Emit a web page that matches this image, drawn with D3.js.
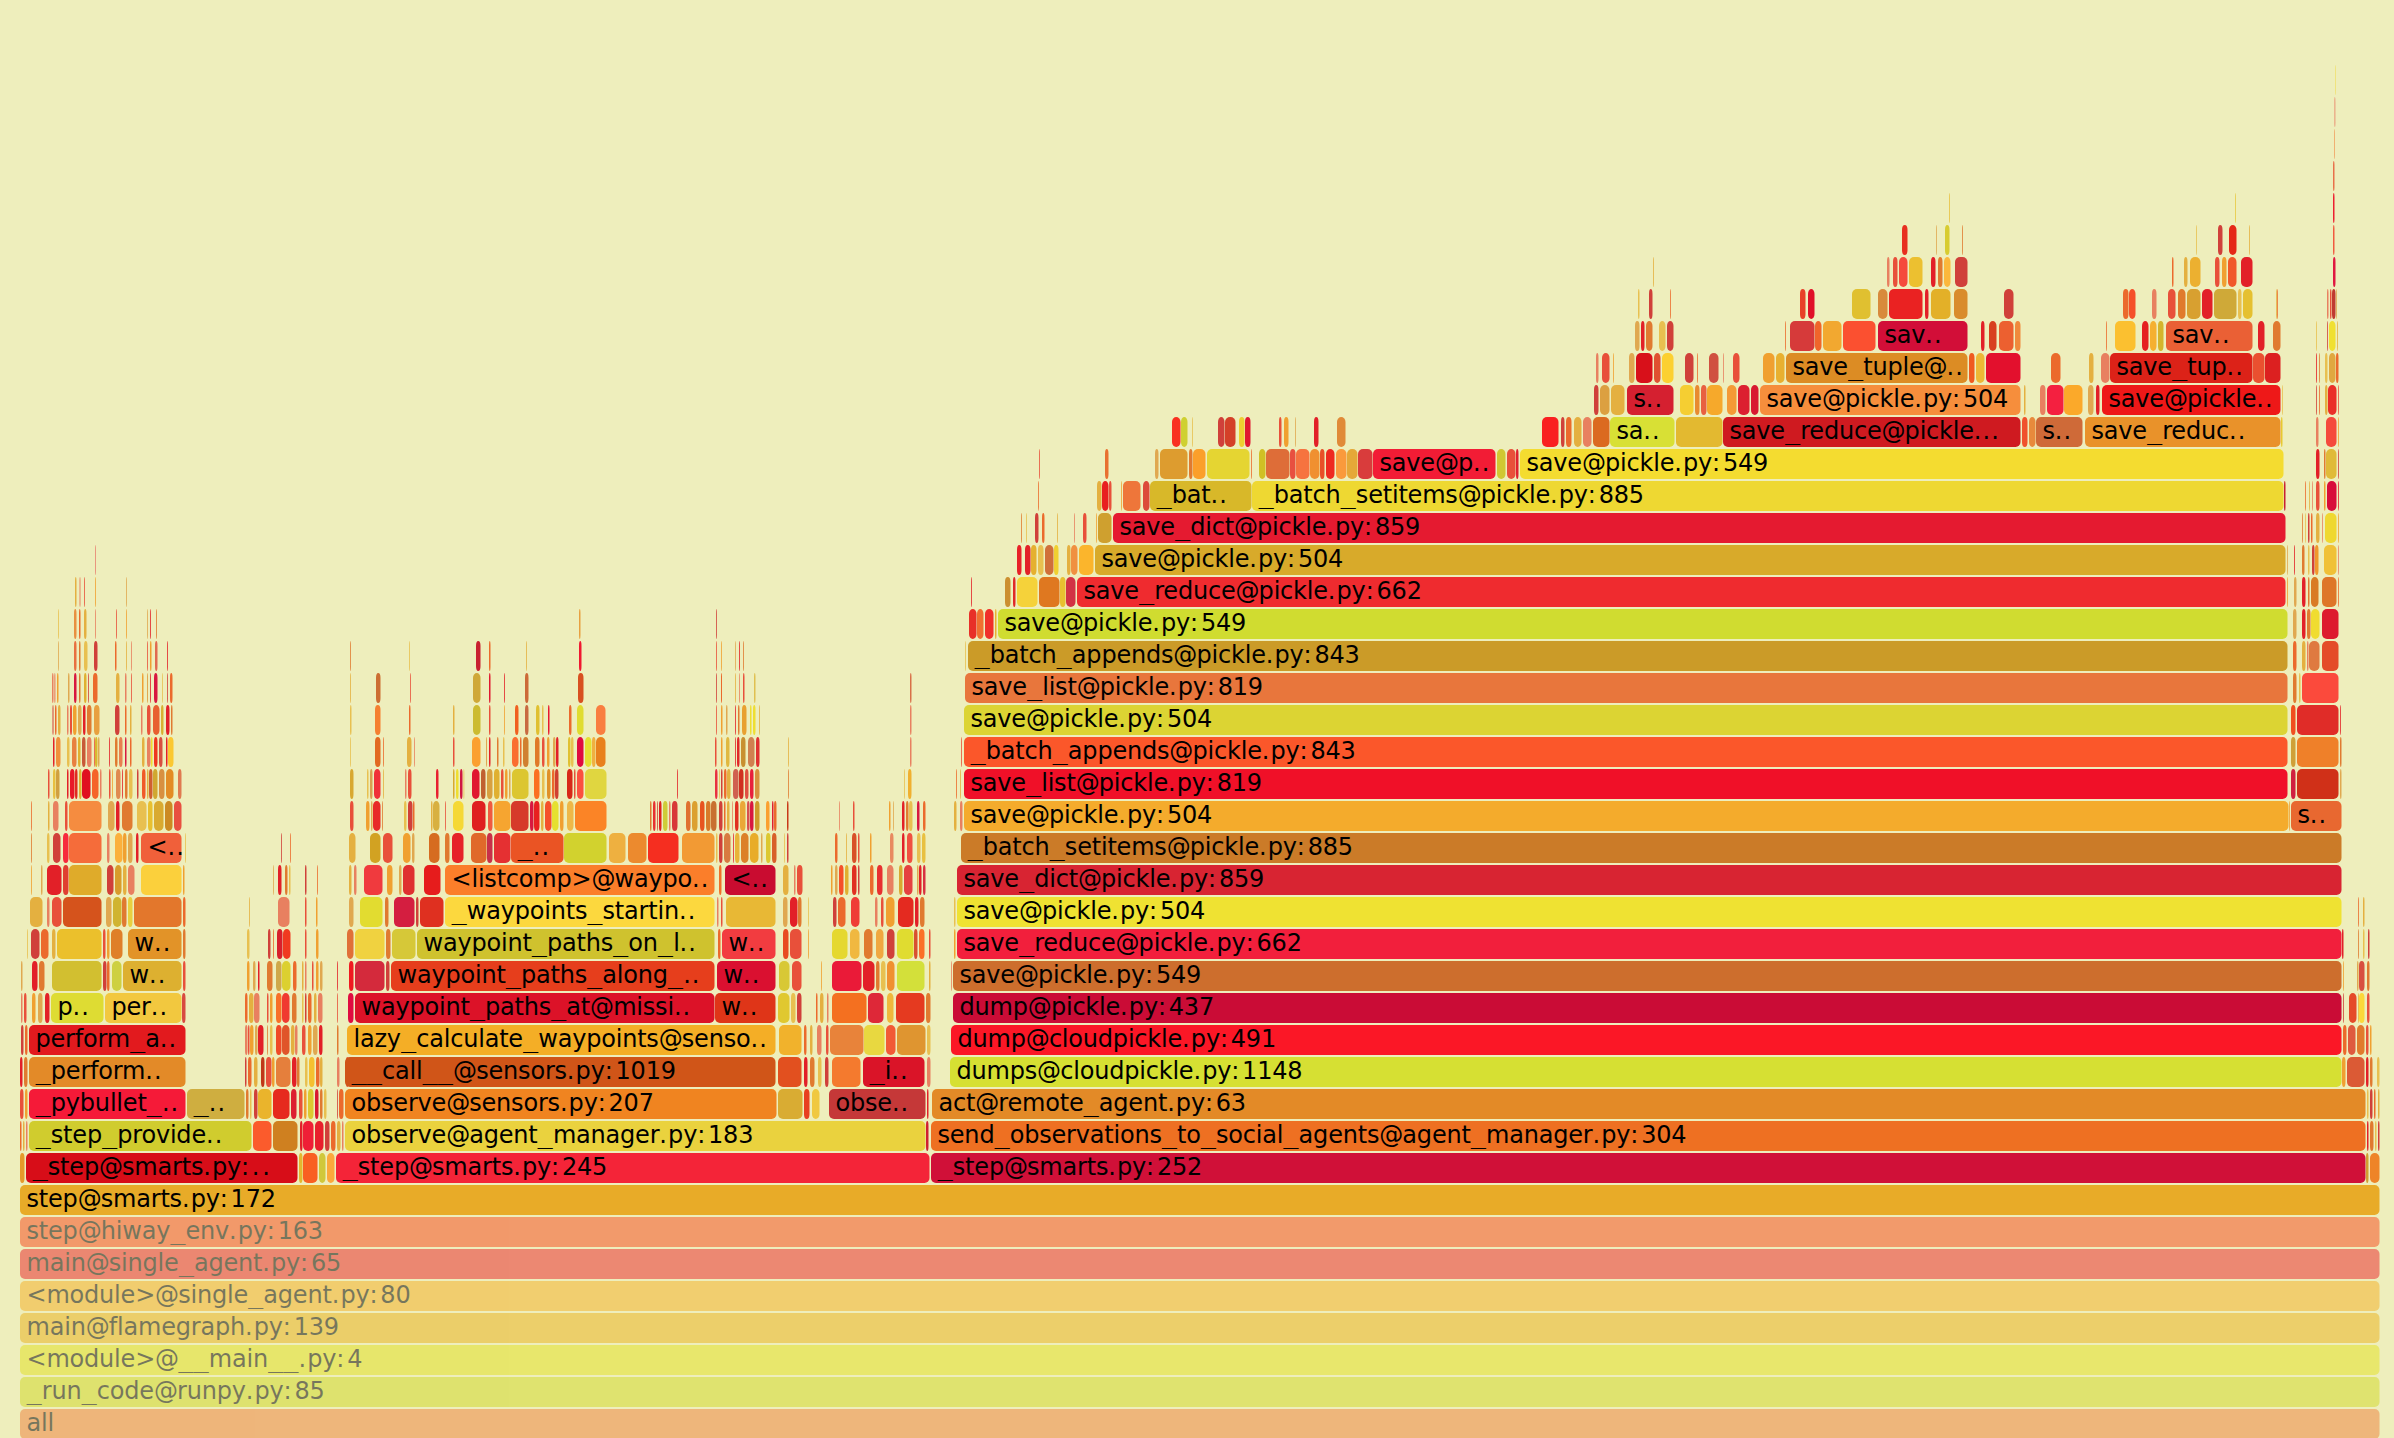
<!DOCTYPE html>
<html><head><meta charset="utf-8">
<script src="https://cdnjs.cloudflare.com/ajax/libs/d3/7.8.5/d3.min.js"></script>
<style>html,body{margin:0;padding:0;background:#eeeebc;overflow:hidden}</style></head>
<body><svg id="flame"></svg>
<script>
// Sample spans per stack depth: [firstSample, lastSample]
const depth0=[[20,2380]],depth1=[[20,2380]],depth2=[[20,2380]],depth3=[[20,2380]],depth4=[[20,2380]],depth5=[[20,2380]],depth6=[[20,2380]],depth7=[[20,2380]];
const depth8=[[20,25],[26,298],[299,303],[303,318],[319,326],[327,335],[336,930],[931,2366],[2366,2369],[2370,2380]];
const depth9=[[20,22],[23,25],[26,28],[29,252],[253,272],[273,298],[300,303],[303,314],[315,324],[325,330],[331,336],[337,341],[342,344],[345,926],[926,929],[931,2366],[2367,2369],[2370,2374],[2375,2377],[2378,2380]];
const depth10=[[20,24],[25,28],[29,186],[187,245],[246,249],[250,252],[254,258],[258,272],[273,290],[291,297],[299,303],[304,307],[308,314],[315,319],[320,323],[324,327],[337,338],[339,344],[345,777],[778,803],[804,810],[812,820],[829,926],[927,929],[932,2366],[2367,2369],[2370,2373],[2374,2376],[2378,2380]];
const depth11=[[20,23],[24,28],[29,186],[245,247],[248,252],[254,258],[261,265],[266,272],[272,275],[276,291],[292,297],[297,300],[305,308],[309,315],[316,320],[320,323],[337,340],[346,349],[345,776],[778,802],[804,808],[810,815],[818,822],[825,829],[832,861],[863,925],[927,931],[950,2342],[2342,2346],[2347,2365],[2366,2369],[2370,2373],[2377,2380]];
const depth12=[[21,24],[25,28],[29,186],[245,248],[248,250],[250,254],[255,258],[258,264],[267,268],[270,273],[276,282],[282,290],[291,295],[295,298],[302,306],[308,312],[313,318],[319,323],[337,339],[347,776],[779,802],[804,807],[810,813],[817,822],[826,829],[830,864],[864,885],[886,896],[897,926],[927,931],[951,2342],[2343,2347],[2348,2356],[2357,2365],[2366,2369],[2370,2372]];
const depth13=[[21,23],[24,27],[32,36],[38,43],[45,50],[51,104],[105,182],[182,186],[245,248],[249,254],[254,260],[267,269],[270,273],[276,282],[282,290],[292,297],[302,304],[305,307],[308,312],[314,317],[318,323],[337,338],[348,354],[355,715],[715,776],[778,790],[791,796],[797,802],[816,818],[820,824],[827,829],[832,867],[868,884],[887,894],[896,925],[926,931],[953,2342],[2343,2344],[2349,2357],[2358,2359],[2359,2365],[2367,2370]];
const depth14=[[21,23],[32,38],[39,45],[52,102],[103,107],[107,110],[112,122],[123,182],[183,186],[247,250],[253,256],[258,260],[267,273],[276,282],[282,291],[293,297],[302,304],[305,307],[312,314],[316,319],[320,323],[337,338],[349,354],[355,385],[386,390],[391,715],[717,776],[779,790],[792,802],[821,822],[832,862],[863,875],[876,880],[881,886],[887,895],[897,925],[929,931],[951,952],[953,2342],[2343,2344],[2357,2359],[2359,2365],[2367,2370]];
const depth15=[[27,28],[31,40],[41,49],[52,56],[57,102],[103,106],[107,110],[111,123],[128,182],[183,186],[247,250],[268,271],[273,274],[277,283],[283,291],[305,307],[316,319],[347,354],[355,385],[386,391],[392,416],[417,715],[718,721],[722,776],[783,789],[790,802],[808,809],[832,848],[850,860],[864,873],[876,884],[887,895],[897,914],[914,918],[919,925],[929,931],[954,956],[957,2342],[2342,2344],[2358,2359],[2363,2365],[2368,2370]];
const depth16=[[30,43],[47,50],[52,62],[63,102],[106,112],[113,122],[122,127],[128,133],[134,182],[183,186],[249,250],[278,290],[305,307],[316,318],[349,354],[360,383],[385,389],[394,415],[416,419],[420,444],[445,715],[717,719],[721,723],[726,776],[783,788],[790,798],[798,802],[808,809],[833,837],[838,846],[851,860],[875,878],[881,884],[886,895],[898,914],[915,919],[920,925],[954,956],[957,2342],[2358,2359],[2363,2365]];
const depth17=[[31,32],[41,43],[47,62],[63,69],[69,102],[107,114],[115,122],[123,127],[128,135],[141,182],[183,185],[273,274],[278,282],[285,288],[289,291],[305,307],[317,318],[349,352],[354,357],[364,383],[387,393],[399,402],[403,415],[424,441],[445,715],[719,722],[725,776],[783,789],[794,796],[797,803],[831,833],[835,838],[839,844],[845,849],[852,857],[858,860],[870,874],[877,883],[887,894],[899,903],[904,913],[917,919],[919,922],[923,926],[957,2342]];
const depth18=[[31,32],[47,50],[53,61],[63,69],[69,102],[107,110],[115,123],[123,127],[128,133],[136,139],[141,182],[185,186],[281,282],[290,291],[349,356],[370,381],[383,393],[403,411],[412,415],[429,440],[445,450],[452,464],[471,487],[487,493],[494,511],[511,564],[564,607],[609,626],[628,647],[648,679],[682,715],[716,718],[719,723],[724,731],[733,734],[735,740],[741,749],[750,759],[761,763],[766,771],[772,777],[784,785],[787,789],[835,838],[846,847],[852,857],[858,860],[870,872],[890,894],[902,905],[907,913],[917,921],[922,926],[961,2342]];
const depth19=[[31,32],[48,50],[53,59],[65,68],[69,102],[108,115],[116,120],[122,133],[137,147],[148,153],[154,164],[165,173],[174,182],[350,354],[366,370],[371,373],[373,381],[382,383],[404,407],[408,413],[413,415],[431,433],[433,440],[445,446],[453,464],[472,486],[488,493],[494,511],[511,529],[530,534],[534,540],[541,544],[545,552],[552,559],[560,564],[567,574],[575,607],[650,652],[653,656],[657,658],[659,662],[663,668],[669,671],[672,678],[686,691],[692,698],[700,705],[706,711],[711,717],[719,723],[724,726],[727,730],[732,733],[735,739],[740,746],[747,750],[750,754],[755,760],[766,770],[772,774],[774,777],[787,789],[839,840],[853,855],[889,891],[893,894],[902,905],[906,909],[909,913],[917,920],[923,926],[954,957],[960,963],[964,2289],[2289,2290],[2291,2342]];
const depth20=[[48,50],[53,56],[56,60],[67,69],[70,75],[75,78],[79,82],[82,91],[92,99],[100,102],[109,111],[112,113],[116,121],[122,123],[125,128],[129,133],[137,139],[142,146],[147,149],[149,153],[153,158],[159,165],[166,174],[178,182],[350,354],[367,369],[370,373],[374,381],[383,384],[405,407],[408,412],[436,439],[453,455],[456,459],[460,463],[463.5,464.5],[472,480],[481,486],[487,493],[494,500],[501,504],[505,508],[509,511],[512,529],[534,540],[542,545],[547,551],[552,555],[555,559],[567,573],[574,576],[577,584],[585,607],[677,677.8],[715,718],[719,720],[721,723],[724,727],[727,731],[733,739],[739,744],[745,749],[750,754],[755,760],[788,789],[904,905],[908,912],[956,957],[960,961],[964,2288],[2291,2296],[2297,2339],[2340,2342]];
const depth21=[[53,55],[56,61],[67,70],[72,77],[78,81],[82,86],[87,92],[94,95],[95,98],[98,100],[109,109.8],[115,118],[119,123],[125,127],[130,132],[142,145],[147,151],[151,153],[154,158],[159,163],[166,168],[168,174],[350,351],[375,381],[383,384],[407,412],[414,414.8],[453,455],[472,481],[486,487.5],[489,491],[497,499],[503,505],[512,519],[520,522],[523,529],[535,540],[542,545],[547,550],[553,556],[556,559],[568,571],[571,574],[577,584],[585,592],[592,596],[596,606],[715,717],[721,723],[726,730],[735,736],[737,740],[741,746],[748,755],[756,760],[788,789],[910,912],[961,962],[964,2288],[2291,2296],[2297,2339],[2340,2342]];
const depth22=[[52.5,54],[55,57],[58,61],[67,69],[70,72.5],[73,77],[78,82],[83,86],[87,92],[94,100],[115,120],[125,127],[130,132],[141,143],[147,151],[153,160],[161,164],[166,170],[171,173],[350,352],[375,381],[409,411],[453,455],[473,481],[489,491],[504,505],[515,519],[525,529],[536,540],[542,544],[548,550],[569,572],[577,584],[596,606],[716,717],[721,723],[726,728],[735,736],[738,740],[742,747],[750,752],[753,756],[759,760],[910,912],[964,2288],[2291,2296],[2297,2339],[2340,2341]];
const depth23=[[52,54],[54.5,55.5],[57,59],[68,70],[74,77],[79,81],[84,87],[88,89],[93,98],[116,120],[125,127],[131,132],[142,144],[147,148.5],[150,151],[154,158],[162,163],[167,168],[170,173],[350,351],[376,381],[410,411],[473,481],[489,491],[504,505],[525,529],[578,584],[716,717],[721,722.5],[735,736],[739,740],[743,745],[754,756],[910,912],[965,2288],[2293,2297],[2299,2301],[2302,2339]];
const depth24=[[58,59],[74,77],[79,81],[84,88],[94,98],[115,117],[126,127],[131,132],[147,148],[150,152],[155,158],[167,168],[350,351],[409,410],[476,481],[489,491],[526,527],[579,582],[716,717],[721,722],[735,736],[739,740],[743,744],[965,966],[968,2288],[2293,2297],[2302,2306],[2307,2309],[2309,2320],[2322,2339]];
const depth25=[[58,59],[74,77],[79,81],[84,87],[95,96],[116,117],[126,127],[147,148],[150,151],[156,157],[579,581],[716,717],[969,977],[977,984],[985,994],[995,997],[998,2288],[2293,2297],[2302,2306],[2307,2311],[2311,2320],[2322,2339]];
const depth26=[[75,77],[79.5,81],[84,85],[95,96],[126,127],[971,971.8],[1005,1011],[1013,1016],[1017,1038],[1039,1060],[1060,1066],[1066,1076],[1077,2286],[2287,2288],[2294,2297],[2302,2306],[2308,2310],[2311,2319],[2322,2337],[2338,2339]];
const depth27=[[95,96],[1017,1022],[1025,1031],[1031,1037],[1038,1044],[1045,1054],[1054,1059],[1067,1071],[1071,1078],[1079,1094],[1095,2286],[2287,2288],[2294,2295],[2302,2305],[2308,2310],[2312,2315],[2315,2319],[2324,2337],[2338,2339]];
const depth28=[[1021,1022],[1026,1026.8],[1035,1039],[1042,1045],[1057,1058],[1074,1075],[1083,1087],[1096,1097],[1098,1112],[1113,2286],[2302,2303],[2305,2306],[2308,2310],[2311,2313],[2316,2320],[2322,2323],[2325,2337],[2338,2339]];
const depth29=[[1038,1039],[1097,1102],[1102,1109],[1109,1112],[1121,1122],[1123,1141],[1143,1150],[1150,1252],[1252,2284],[2284,2286],[2305,2306],[2309,2310],[2312,2313],[2316,2320],[2324,2326],[2327,2337],[2338,2339]];
const depth30=[[1039,1040],[1105,1109],[1155,1159],[1160,1188],[1189,1193],[1193,1206],[1207,1250],[1251,1252],[1259,1266],[1266,1290],[1290,1296],[1296,1310],[1310,1320],[1320,1325],[1326,1335],[1336,1347],[1347,1358],[1358,1373],[1373,1496],[1497,1506],[1507,1516],[1516,1519],[1520,2284],[2316,2320],[2324,2326],[2326,2337],[2338,2339]];
const depth31=[[1172,1181],[1181,1188],[1192,1193],[1218,1225],[1225,1236],[1239,1245],[1245,1251],[1279,1282],[1284,1289],[1295,1295.8],[1314,1319],[1337,1346],[1542,1559],[1561,1565],[1566,1572],[1574,1582],[1583,1592],[1593,1610],[1610,1675],[1676,1723],[1723,2021],[2022,2028],[2029,2036],[2036,2083],[2085,2281],[2281,2283],[2316,2319],[2326,2337],[2338,2339]];
const depth32=[[1594,1599],[1600,1610],[1611,1625],[1627,1674],[1680,1694],[1695,1700],[1701,1707],[1707,1723],[1727,1737],[1738,1750],[1751,1759],[1760,2021],[2024,2026],[2040,2046],[2047,2064],[2064,2083],[2088,2094],[2096,2100],[2102,2281],[2282,2283],[2316,2317],[2319,2319.8],[2325,2328],[2328,2337],[2338,2339]];
const depth33=[[1596,1599],[1602,1610],[1613,1613.8],[1629,1635],[1636,1653],[1654,1661],[1662,1674],[1685,1694],[1697,1698],[1709,1719],[1723,1724],[1733,1740],[1763,1775],[1776,1785],[1786,1968],[1969,1975],[1976,1985],[1986,2021],[2051,2061],[2089,2094],[2101,2110],[2110,2253],[2253,2265],[2265,2281],[2316,2317],[2319,2319.8],[2325,2328],[2329,2336],[2336,2339]];
const depth34=[[1635,1640],[1641,1645],[1646,1653],[1659,1666],[1667,1674],[1785,1786],[1790,1815],[1815,1822],[1823,1842],[1843,1876],[1878,1968],[1981,1985],[1989,1997],[1999,2014],[2015,2021],[2106,2107],[2115,2136],[2142,2149],[2150,2157],[2158,2164],[2166,2253],[2258,2265],[2273,2281],[2316,2317],[2327,2328],[2329,2336],[2337,2338]];
const depth35=[[1638,1640],[1649,1653],[1670,1671],[1800,1806],[1808,1815],[1852,1871],[1878,1888],[1889,1923],[1925,1929],[1931,1951],[1954,1968],[2004,2014],[2123,2129],[2129,2136],[2152,2157],[2168,2176],[2178,2186],[2187,2201],[2202,2213],[2214,2237],[2238,2242],[2243,2253],[2277,2278],[2276,2277],[2327,2329],[2330,2332],[2332,2336],[2336,2337]];
const depth36=[[1653,1654],[1887,1890],[1893,1898],[1899,1908],[1909,1923],[1931,1936],[1938,1943],[1944,1951],[1955,1968],[2172,2174],[2184,2188],[2190,2201],[2215,2220],[2222,2227],[2228,2237],[2241,2253],[2333,2336]];
const depth37=[[1902,1908],[1936,1937],[1945,1950],[1962,1963],[2196,2197],[2218,2223],[2229,2237],[2249,2250],[2333,2335]];
const depth38=[[1949,1950],[2235,2236],[2333,2335]];
const depth39=[[2333,2335]];
const depth40=[[2334,2335]];
const depth41=[[2334.5,2335.5]];
const depth42=[[2335,2336]];
const depths=[depth0,depth1,depth2,depth3,depth4,depth5,depth6,depth7,depth8,depth9,depth10,depth11,depth12,depth13,depth14,depth15,depth16,depth17,depth18,depth19,depth20,depth21,depth22,depth23,depth24,depth25,depth26,depth27,depth28,depth29,depth30,depth31,depth32,depth33,depth34,depth35,depth36,depth37,depth38,depth39,depth40,depth41,depth42];

// Frame names, keyed "depth:firstSample"
const frameLabels={
'0:20':'all','1:20':'_run_code@runpy.py:85','2:20':'<module>@__main__.py:4','3:20':'main@flamegraph.py:139','4:20':'<module>@single_agent.py:80','5:20':'main@single_agent.py:65','6:20':'step@hiway_env.py:163','7:20':'step@smarts.py:172',
'8:26':'_step@smarts.py:..','8:336':'_step@smarts.py:245','8:931':'_step@smarts.py:252',
'9:29':'_step_provide..','9:345':'observe@agent_manager.py:183','9:931':'send_observations_to_social_agents@agent_manager.py:304',
'10:29':'_pybullet_..','10:187':'_..','10:345':'observe@sensors.py:207','10:829':'obse..','10:932':'act@remote_agent.py:63',
'11:29':'_perform..','11:345':'__call__@sensors.py:1019','11:863':'_i..','11:950':'dumps@cloudpickle.py:1148',
'12:29':'perform_a..','12:347':'lazy_calculate_waypoints@senso..','12:951':'dump@cloudpickle.py:491',
'13:51':'p..','13:105':'per..','13:355':'waypoint_paths_at@missi..','13:715':'w..','13:953':'dump@pickle.py:437',
'14:123':'w..','14:391':'waypoint_paths_along_..','14:717':'w..','14:953':'save@pickle.py:549',
'15:128':'w..','15:417':'waypoint_paths_on_l..','15:722':'w..','15:957':'save_reduce@pickle.py:662',
'16:445':'_waypoints_startin..','16:957':'save@pickle.py:504',
'17:445':'<listcomp>@waypo..','17:725':'<..','17:957':'save_dict@pickle.py:859',
'18:141':'<..','18:511':'_..','18:961':'_batch_setitems@pickle.py:885',
'19:964':'save@pickle.py:504','19:2291':'s..','20:964':'save_list@pickle.py:819','21:964':'_batch_appends@pickle.py:843','22:964':'save@pickle.py:504','23:965':'save_list@pickle.py:819','24:968':'_batch_appends@pickle.py:843',
'25:998':'save@pickle.py:549','26:1077':'save_reduce@pickle.py:662','27:1095':'save@pickle.py:504','28:1113':'save_dict@pickle.py:859',
'29:1150':'_bat..','29:1252':'_batch_setitems@pickle.py:885','30:1373':'save@p..','30:1520':'save@pickle.py:549',
'31:1610':'sa..','31:1723':'save_reduce@pickle...','31:2036':'s..','31:2085':'save_reduc..',
'32:1627':'s..','32:1760':'save@pickle.py:504','32:2102':'save@pickle..',
'33:1786':'save_tuple@..','33:2110':'save_tup..','34:1878':'sav..','34:2166':'sav..'};

// Frame colours, keyed the same way; unlisted slivers take the next colour of sliverTones
const frameTones={
'0:20':'#ee7e3a','1:20':'#d0d822','2:20':'#e2e01c','3:20':'#eab018','4:20':'#f4ae22','5:20':'#ea2228','6:20':'#f6461a','7:20':'#e8ab28',
'8:20':'#e59a2a','8:26':'#d70d18','8:299':'#e3b82e','8:303':'#f95f22','8:319':'#d0c83a','8:327':'#fba83c','8:336':'#f42438','8:931':'#d01038','8:2366':'#d0a030','8:2370':'#ee8428',
'9:29':'#d0cc2e','9:253':'#fb5b2c','9:273':'#cf8020','9:303':'#ef1f36','9:315':'#e8202c','9:345':'#ead23e','9:926':'#d02030','9:931':'#ee7022',
'10:29':'#f51a38','10:187':'#cfae40','10:258':'#eab42c','10:273':'#e62a1e','10:291':'#dc2030','10:308':'#dcc830','10:315':'#d81830','10:345':'#f08420','10:778':'#d9ac33','10:804':'#e84020','10:812':'#f0c840','10:829':'#c53838','10:932':'#e38a27',
'11:29':'#e38a28','11:261':'#c03818','11:276':'#e57f3c','11:309':'#f5c030','11:345':'#d05518','11:778':'#e2501f','11:832':'#f47a2e','11:863':'#da1428','11:950':'#d6e033','11:2347':'#db5a35',
'12:29':'#e21a1e','12:276':'#f04a28','12:282':'#e0552a','12:347':'#f4ae26','12:779':'#f1b22c','12:830':'#e8833a','12:864':'#e8d840','12:886':'#f25a36','12:897':'#df9530','12:951':'#fb1726','12:2348':'#df5a3f','12:2357':'#e07a2c',
'13:51':'#dedc33','13:105':'#f2c83f','13:182':'#d84a40','13:276':'#f87028','13:282':'#f03a30','13:348':'#e00c40','13:355':'#dc1228','13:715':'#df3518','13:778':'#e0c830','13:832':'#f47020','13:868':'#de2838','13:887':'#efb83c','13:896':'#e53a20','13:953':'#ca0c36','13:2349':'#e54a2a','13:2359':'#fbd83a',
'14:52':'#d2bf30','14:112':'#ced040','14:123':'#ddb030','14:276':'#cfa84a','14:282':'#dcd030','14:349':'#f01a20','14:355':'#d42a3c','14:391':'#e63e1c','14:717':'#da1030','14:779':'#d8c835','14:832':'#ea1a38','14:887':'#f09030','14:897':'#d3e03a','14:953':'#cd6e2d','14:2359':'#d85040',
'15:57':'#ebc02c','15:111':'#df7f28','15:128':'#e29328','15:283':'#f03a20','15:277':'#d8202c','15:347':'#e07038','15:355':'#f0d240','15:392':'#d6c838','15:417':'#cfc22e','15:722':'#f23c40','15:783':'#e84a20','15:832':'#e5d830','15:850':'#f0b840','15:876':'#f0a840','15:897':'#e0dc30','15:914':'#d85030','15:919':'#fb7028','15:957':'#f21f3c',
'16:63':'#d5531c','16:113':'#d0b430','16:128':'#e8d040','16:134':'#e3772c','16:360':'#e2dc30','16:394':'#d41e40','16:420':'#df3020','16:445':'#fcd83e','16:726':'#e8b835','16:851':'#ef3d36','16:898':'#e42a20','16:957':'#efe232',
'17:63':'#e03f30','17:69':'#dfab2a','17:115':'#d89c2c','17:141':'#fbd03c','17:364':'#f03a3e','17:403':'#df3030','17:424':'#e61c1c','17:445':'#fb7e2a','17:719':'#f07028','17:725':'#c90c30','17:839':'#f5502a','17:845':'#e0b030','17:852':'#e03020','17:877':'#e83030','17:899':'#d8a830','17:904':'#e54040','17:923':'#d83040','17:957':'#d82432',
'18:63':'#f72a3c','18:69':'#f56c3a','18:115':'#fbb03c','18:141':'#f0603a','18:370':'#d2a222','18:429':'#d66c20','18:452':'#e62228','18:471':'#e0692a','18:487':'#c8304a','18:494':'#e53032','18:511':'#ea5424','18:564':'#d2d22e','18:609':'#eeb040','18:628':'#ec8a2e','18:648':'#f52e20','18:682':'#f29a34','18:724':'#d87a40','18:733':'#e02030','18:735':'#e8b438','18:741':'#dc8028','18:750':'#e8ac28','18:766':'#dcc830','18:772':'#d8602a','18:852':'#d85028','18:890':'#e88a60','18:907':'#f05040','18:922':'#e8c040','18:961':'#cb7b28',
'19:69':'#f58c40','19:148':'#e8c030','19:154':'#d9aa30','19:165':'#cc8a22','19:174':'#e85040','19:373':'#e82a28','19:433':'#d8b040','19:453':'#f5d835','19:472':'#df2020','19:488':'#f05a40','19:494':'#f6a530','19:511':'#d63a2a','19:530':'#d81840','19:534':'#e82020','19:545':'#f5502a','19:552':'#e5e030','19:567':'#eeb848','19:575':'#fb8426','19:653':'#e83030','19:659':'#e02020','19:663':'#cfcc38','19:672':'#d83838','19:686':'#e07030','19:692':'#dca030','19:700':'#e85420','19:706':'#d87a2a','19:711':'#c87030','19:735':'#e03020','19:740':'#eaa838','19:747':'#d85050','19:750':'#d81840','19:755':'#cf9a28','19:766':'#fba030','19:772':'#e02030','19:787':'#c83818','19:917':'#d81840','19:964':'#f4ab2c','19:2291':'#e86830',
'20:53':'#e8c040','20:56':'#d0a040','20:70':'#e81828','20:75':'#e02a20','20:79':'#e0b030','20:82':'#e01020','20:92':'#f56428','20:116':'#e08a50','20:142':'#f05a28','20:149':'#d06030','20:153':'#d0a830','20:159':'#d89040','20:166':'#e38c24','20:178':'#e07a50','20:350':'#d8a830','20:370':'#d8a050','20:374':'#f03038','20:436':'#e82030','20:453':'#d8a830','20:456':'#eede30','20:460':'#d01840','20:472':'#e01830','20:481':'#c06030','20:487':'#d8a040','20:494':'#e0b030','20:512':'#dcc630','20:534':'#fb7020','20:547':'#e09028','20:555':'#d04030','20:567':'#d82818','20:577':'#fb5040','20:585':'#e0d640','20:715':'#e83040','20:733':'#d06050','20:739':'#d03020','20:745':'#e05040','20:750':'#e8203c','20:755':'#d8903c','20:908':'#f0b030','20:964':'#f01028','20:2291':'#d02040','20:2297':'#d03018',
'21:56':'#f0903a','21:72':'#e88040','21:78':'#e0b030','21:82':'#c85a38','21:95':'#d8b830','21:119':'#e88050','21:125':'#d81840','21:151':'#eede30','21:154':'#ee3820','21:159':'#d85040','21:166':'#e82020','21:168':'#fbc830','21:375':'#e26a20','21:472':'#fba030','21:512':'#fa6e30','21:523':'#d08030','21:535':'#e07a28','21:568':'#e0c030','21:577':'#e00c40','21:585':'#e5e030','21:592':'#f0b040','21:596':'#e8801c','21:726':'#e0b840','21:737':'#e02828','21:741':'#c89030','21:748':'#d08050','21:756':'#e03030','21:964':'#fb572a','21:2291':'#cfa038','21:2297':'#ef8029',
'22:94':'#e8a040','22:153':'#e86030','22:161':'#d8b030','22:375':'#f58030','22:473':'#ccbb30','22:515':'#f06020','22:525':'#c86a40','22:536':'#e0c030','22:548':'#e81830','22:577':'#e0dc30','22:596':'#f97e40','22:742':'#e8a030','22:750':'#eede30','22:753':'#eede30','22:964':'#dcd433','22:2291':'#f05020','22:2297':'#e02c28',
'23:74':'#d81840','23:84':'#e0b030','23:154':'#d81840','23:376':'#cc6e33','23:473':'#cfa838','23:489':'#e01830','23:525':'#cc6a38','23:578':'#d85020','23:754':'#e0c050','23:910':'#d87048','23:965':'#e8763c','23:2302':'#fb4a3c',
'24:74':'#e87040','24:155':'#e06a50','24:476':'#c82030','24:579':'#f01830','24:968':'#cb9b28','24:2309':'#df7a40','24:2322':'#e44c28',
'25:74':'#e89040','25:579':'#e8a040','25:969':'#e83028','25:977':'#f07030','25:985':'#f0302a','25:995':'#e8b030','25:998':'#d0dc30','25:2311':'#f0dc30','25:2322':'#dd1a2e',
'26:1005':'#cc8f30','26:1013':'#e02828','26:1017':'#f5d23a','26:1039':'#df7820','26:1060':'#e8c030','26:1066':'#d23244','26:1077':'#ef2b2f','26:2311':'#d97b24','26:2322':'#de7628',
'27:95':'#e88070','27:1017':'#e82028','27:1031':'#e5b030','27:1045':'#d0703a','27:1054':'#f0d030','27:1071':'#f09040','27:1079':'#fbb52c','27:1095':'#d8aa2a','27:2315':'#f0982c','27:2324':'#f0c136',
'28:1098':'#cfa02f','28:1113':'#e51a30','28:2325':'#efd830',
'29:1102':'#e82020','29:1123':'#ee763a','29:1143':'#dc4a3a','29:1150':'#d8b829','29:1252':'#eed832','29:2284':'#c82030','29:2327':'#d80d3a',
'30:1105':'#e87030','30:1160':'#dd9c2f','30:1193':'#fb9f2a','30:1207':'#e5d532','30:1259':'#d0c024','30:1266':'#de6d38','30:1290':'#e85040','30:1296':'#f6733f','30:1310':'#f09030','30:1320':'#e85028','30:1326':'#ee2a20','30:1336':'#fa9a3c','30:1347':'#e5a838','30:1358':'#d93c3c','30:1373':'#f21c35','30:1497':'#d0c832','30:1516':'#e02030','30:1520':'#f4dc30','30:2326':'#e0ba38',
'31:1172':'#f93020','31:1181':'#cfd030','31:1225':'#d44028','31:1239':'#eed030','31:1245':'#e01830','31:1337':'#e08a38','31:1542':'#f92020','31:1593':'#db6a20','31:1610':'#d8e035','31:1676':'#e3b930','31:1723':'#cf1a20','31:2022':'#f0512c','31:2029':'#e88a3c','31:2036':'#cf6a38','31:2085':'#e9922a','31:2281':'#e8c830','31:2326':'#f54a3c',
'32:1600':'#dca040','32:1627':'#d52030','32:1680':'#f5ce32','32:1695':'#e88a30','32:1701':'#e86040','32:1707':'#f6a92b','32:1727':'#f49a35','32:1738':'#dc2030','32:1751':'#d81830','32:1760':'#f68e3c','32:2047':'#f42040','32:2064':'#fba92a','32:2102':'#ee1818','32:2328':'#ea2f28',
'33:1636':'#d8101a','33:1654':'#e05030','33:1662':'#fcd030','33:1709':'#d05040','33:1776':'#e8b030','33:1786':'#dc8c24','33:1969':'#f05a20','33:1976':'#edb835','33:1986':'#e3102d','33:2110':'#dc2218','33:2253':'#ea5030','33:2265':'#dc2020','33:2329':'#e0a840',
'34:1790':'#d63a3a','34:1815':'#f0652a','34:1823':'#f2a830','34:1843':'#fb5030','34:1878':'#d20e38','34:1989':'#d84020','34:1999':'#ec6030','34:2015':'#f08a3c','34:2115':'#fbc030','34:2142':'#e52020','34:2150':'#f5b030','34:2158':'#d4b42c','34:2166':'#ea6035','34:2329':'#f0e030',
'35:1800':'#e84028','35:1808':'#e01028','35:1852':'#e0c030','35:1878':'#d88a3c','35:1889':'#ea2222','35:1931':'#e3b028','35:1954':'#d98c2c','35:2129':'#f5502a','35:2178':'#e07a2c','35:2187':'#d8a030','35:2214':'#cfa938','35:2243':'#e5c030','35:2332':'#c03a30',
'36:1899':'#f54a3c','36:1909':'#ecc030','36:1944':'#fbb83c','36:2190':'#ecb030','36:2228':'#f0582a','36:2333':'#e01840',
'37:1902':'#e83020','37:1945':'#d8cc30','37:2229':'#e52818','37:2333':'#f05a40','38:1949':'#e8c040','38:2235':'#e8c840','38:2333':'#ec2030','39:2333':'#e8704a','40:2334':'#f0a060','41:2334.5':'#e87a60','42:2335':'#f0e070'};
const sliverTones=['#e8503a','#f0a030','#e0a850','#e22028','#e07a30','#e8c050','#d0403a','#eb6a2c','#e4b040','#e88060'];

const width=2394,height=1438,rowPitch=32,barHeight=30,dimmedDepths=7,maxDepth=depths.length-1;
const x=d3.scaleLinear().domain([20,2380]).range([20,2380]);
const y=d3.scaleLinear().domain([0,maxDepth]).range([1409,1409-rowPitch*maxDepth]);

const frames=depths.flatMap((spans,depth)=>spans.map((s,i)=>{
  const key=depth+':'+s[0];
  return {depth,from:s[0],to:s[1],label:frameLabels[key]||'',tone:frameTones[key]||sliverTones[(i+depth*3)%sliverTones.length]};
}));

const svg=d3.select('#flame').attr('width',width).attr('height',height).style('display','block');
svg.append('rect').attr('width',width).attr('height',height).attr('fill','#eeeebc');
const g=svg.selectAll('g.frame').data(frames).join('g').attr('class','frame')
  .attr('transform',d=>`translate(${x(d.from)},${y(d.depth)})`)
  .attr('opacity',d=>d.depth<dimmedDepths?0.5:1);
g.append('rect')
  .attr('width',d=>Math.max(x(d.to)-x(d.from)-0.5,0.8))
  .attr('height',barHeight)
  .attr('rx',d=>Math.min(5,(x(d.to)-x(d.from))/2)).attr('ry',5)
  .attr('fill',d=>d.tone);
// Verdana-like metrics with DejaVu Sans: wider underscores, dots and colons
const runFamily=r=>r[0]==='_'?'"DejaVu Sans Mono",monospace':'"DejaVu Sans",Verdana,sans-serif';
const runSize=r=>r[0]==='_'?25.4:24;
const runSpacing=r=>r[0]==='.'?1.1:r[0]===':'?2.8:r[0]==='@'?-0.9:r[0]==='_'?0:-0.2;
g.filter(d=>d.label).append('text')
  .attr('x',6.5).attr('y',21.5).attr('fill','#000')
  .selectAll('tspan').data(d=>d.label.match(/_+|[.:]+|@|[^_.:@]+/g)).join('tspan')
  .attr('font-family',runFamily).attr('font-size',runSize).attr('letter-spacing',runSpacing)
  .text(r=>r);
</script></body></html>
